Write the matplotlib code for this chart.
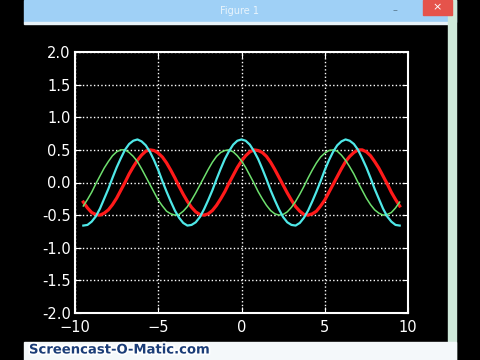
import matplotlib
matplotlib.use('Agg')
import matplotlib.pyplot as plt
import matplotlib.patheffects as pe
from matplotlib.patches import Rectangle

# curve values (in hundredths),
# x from -9.5 to 9.5 in steps of 0.25
x_start, x_step = -9.5, 0.25
red = [-30, -39, -46, -49, -50, -47, -42, -34, -24, -12, 0, 13, 24, 34, 42,
       48, 50, 49, 45, 39, 30, 19, 7, -6, -18, -29, -38, -45, -49, -50, -48,
       -43, -35, -25, -14, -1, 11, 23, 33, 41, 47, 50, 49, 46, 40, 31, 20, 8,
       -4, -16, -27, -37, -44, -49, -50, -48, -44, -36, -27, -15, -3, 9, 21,
       32, 40, 46, 50, 50, 47, 41, 32, 22, 10, -2, -15, -26, -36]
green = [-36, -26, -15, -2, 10, 22, 32, 41, 47, 50, 50, 46, 40, 32, 21, 9, -3,
         -15, -27, -36, -44, -48, -50, -49, -44, -37, -27, -16, -4, 8, 20, 31,
         40, 46, 49, 50, 47, 41, 33, 23, 11, -1, -14, -25, -35, -43, -48, -50,
         -49, -45, -38, -29, -18, -6, 7, 19, 30, 39, 45, 49, 50, 48, 42, 34,
         24, 13, 0, -12, -24, -34, -42, -47, -50, -49, -46, -39, -30]
cyan = [-66, -65, -60, -52, -40, -25, -10, 7, 23, 37, 50, 59, 64, 66, 63, 57,
        47, 34, 19, 2, -14, -29, -43, -54, -62, -66, -65, -61, -53, -41, -27,
        -12, 5, 21, 36, 48, 58, 64, 66, 64, 58, 48, 36, 21, 5, -12, -27, -41,
        -53, -61, -65, -66, -62, -54, -43, -29, -14, 2, 19, 34, 47, 57, 63, 66,
        64, 59, 50, 37, 23, 7, -10, -25, -40, -52, -60, -65, -66]
xs = [x_start + i * x_step for i in range(len(red))]

xticks = [-10, -5, 0, 5, 10]
yticks = [-2.0, -1.5, -1.0, -0.5, 0.0, 0.5, 1.0, 1.5, 2.0]

W, H = 480, 360
fig = plt.figure(figsize=(4.8, 3.6), dpi=100, facecolor='black')

def box(x0, y0, w, h, color, z=0):
    # pixel box, y measured from the top
    fig.patches.append(Rectangle((x0 / W, 1 - (y0 + h) / H), w / W, h / H,
                                 transform=fig.transFigure, color=color,
                                 zorder=z))

# window chrome of the screenshot
box(24, 0, 432, 22, '#9fd0f6')
box(24, 22, 424, 2, '#e8f2f8')
box(448, 0, 8, 360, '#cfe9da')
box(423, 0, 29, 15, '#e5534b', 1)
box(24, 342, 432, 18, '#f4f8fa')
fig.text(240 / W, 1 - 11 / H, 'Figure 1', color='#e8f4fc', fontsize=7,
         ha='center', va='center')
fig.text(437 / W, 1 - 7 / H, '×', color='white', fontsize=8,
         ha='center', va='center', zorder=2)
fig.text(395 / W, 1 - 10 / H, '–', color='#5a7a90', fontsize=7,
         ha='center', va='center')
fig.text(29 / W, 1 - 350 / H, 'Screencast-O-Matic.com', color='#1b3d78',
         fontsize=9.5, fontweight='bold', ha='left', va='center',
         path_effects=[pe.withStroke(linewidth=2.5, foreground='white')])

ax = fig.add_axes([75 / W, 1 - 313 / H, 333 / W, 261 / H])
ax.set_facecolor('black')
ax.plot(xs, [v / 100 for v in red], color='#ff1a1a', lw=2.3)
ax.plot(xs, [v / 100 for v in green], color='#6ee06e', lw=1.1)
ax.plot(xs, [v / 100 for v in cyan], color='#4fe8e8', lw=1.6)

ax.set_xlim(-10, 10)
ax.set_ylim(-2, 2)
ax.set_xticks(xticks)
ax.set_yticks(yticks)
ax.set_yticklabels(['%.1f' % v for v in yticks])
ax.grid(True, color='white', linestyle=':', linewidth=1)
for sp in ax.spines.values():
    sp.set_color('white')
    sp.set_linewidth(1.5)
ax.tick_params(colors='white', direction='in', length=4, labelsize=10.5,
               top=True, right=True)
ax.tick_params(axis='x', pad=5)
ax.tick_params(axis='y', pad=3)

fig.savefig('out.png', dpi=100, facecolor='black')
